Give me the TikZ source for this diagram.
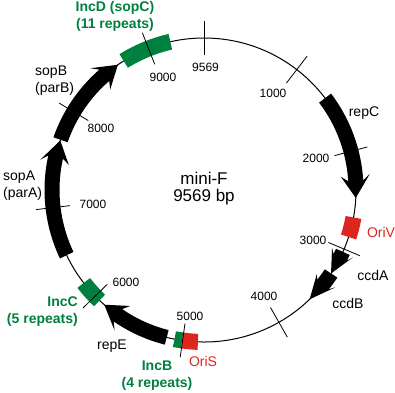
\documentclass[tikz,border=0pt]{standalone}
\usepackage{fontspec}
\setmainfont{Liberation Sans}
\definecolor{incgreen}{RGB}{0,128,62}
\definecolor{orired}{RGB}{222,38,32}
\newcommand\genearr[4][6.5]{%
  \pgfmathsetmacro\ga{#2-90}%
  \pgfmathsetmacro\gt{#3-90}%
  \pgfmathsetmacro\gb{\gt-#1}%
  \pgfmathsetmacro\gw{\gb-2}%
  \pgfmathsetmacro\ho{152+#4}%
  \pgfmathsetmacro\hi{152-#4}%
  \fill[black] (\ga:159.5) arc[start angle=\ga, end angle=\gb, radius=159.5]
    -- (\gw:\ho) -- (\gt:152) -- (\gw:\hi) -- (\gb:144.5)
    arc[start angle=\gb, end angle=\ga, radius=144.5] -- cycle;}
\newcommand\featbox[3]{%
  \pgfmathsetmacro\fa{#2-90}%
  \pgfmathsetmacro\fb{#3-90}%
  \fill[#1] (\fa:160) arc[start angle=\fa, end angle=\fb, radius=160]
    -- (\fb:144) arc[start angle=\fb, end angle=\fa, radius=144] -- cycle;}
\begin{document}
\begin{tikzpicture}[x=1pt,y=-1pt,
  lbl/.style={font=\fontsize{14}{17}\selectfont, inner sep=0pt},
  inclbl/.style={lbl, font=\fontsize{14}{17}\selectfont\bfseries, text=incgreen, align=center},
  orilbl/.style={lbl, text=orired},
  ticklbl/.style={font=\fontsize{12}{14}\selectfont, inner sep=0pt},
  tickline/.style={line width=0.8pt, black}]
\useasboundingbox (0,0) rectangle (395,392);
\fill[white] (0,0) rectangle (395,392);
\begin{scope}[shift={(204,190)}]
  \draw[line width=1pt] (0,0) circle[radius=152];
  % features
  \featbox{incgreen}{328.1}{347.2}
  \featbox{incgreen}{223.4}{232.3}
  \featbox{incgreen}{188.3}{191.2}
  \featbox{orired}{182.3}{188.3}
  \featbox{orired}{100.4}{108}
  % genes
  \genearr{244.6}{289}{14.5}
  \genearr{289.3}{325.5}{14.5}
  \genearr{194.2}{221}{14.5}
  \genearr{52.8}{93}{14.5}
  \genearr[7]{114}{123.3}{11.5}
  \genearr[7.5]{123.3}{136}{11.5}
  % ticks
  \foreach \p in {0,1000,...,9000}{
    \draw[tickline] ({\p/9569*360-90}:135) -- ({\p/9569*360-90}:169);}
\end{scope}
% tick labels
\node[ticklbl] (t0) at (205.5,67) {9569};
\node[ticklbl] (t1) at (273,93) {1000};
\node[ticklbl] (t2) at (316,158) {2000};
\node[ticklbl] (t3) at (313,240) {3000};
\node[ticklbl] (t4) at (264,296) {4000};
\node[ticklbl] (t5) at (190,316) {5000};
\node[ticklbl] (t6) at (126,282) {6000};
\node[ticklbl] (t7) at (93,204) {7000};
\node[ticklbl] (t8) at (101,128) {8000};
\node[ticklbl] (t9) at (163,77) {9000};
% feature labels
\node[inclbl] (lIncD) at (115,16) {IncD (sopC)\\(11 repeats)};
\node[lbl, align=left, anchor=west] (lsopB) at (35,81) {sopB\\(parB)};
\node[lbl, align=left, anchor=west] (lsopA) at (3,186) {sopA\\(parA)};
\node[inclbl, align=right, anchor=east] (lIncC) at (78,311.5) {IncC\\(5 repeats)};
\node[lbl] (lrepE) at (112,346) {repE};
\node[inclbl] (lIncB) at (157,375.5) {IncB\\(4 repeats)};
\node[orilbl] (lOriS) at (203,361) {OriS};
\node[lbl] (lccdB) at (348,303) {ccdB};
\node[lbl] (lccdA) at (373,275) {ccdA};
\node[orilbl] (lOriV) at (381,232) {OriV};
\node[lbl] (lrepC) at (364,113) {repC};
\node[font=\fontsize{17}{17}\selectfont, align=center, inner sep=0pt] (title) at (204,189) {mini-F\\9569 bp};
\end{tikzpicture}
\end{document}
